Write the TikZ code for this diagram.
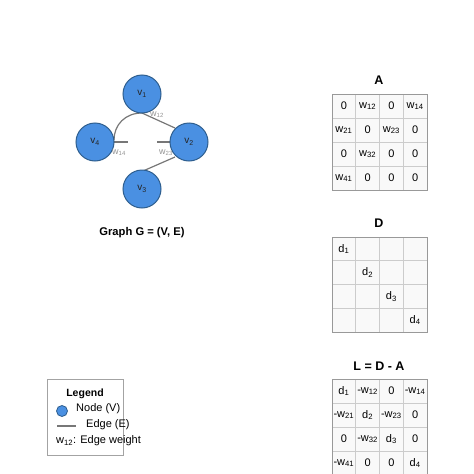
\documentclass[tikz,border=0pt]{standalone}
\usepackage{fontspec}
\setmainfont{Liberation Sans}
\definecolor{nodefill}{HTML}{4A90E2}
\definecolor{nodeline}{HTML}{2E5E8E}
\definecolor{edgecol}{HTML}{777777}
\definecolor{gridout}{HTML}{999999}
\definecolor{gridin}{HTML}{CCCCCC}
\definecolor{cellbg}{HTML}{F9F9F9}
\newcommand{\sub}[1]{\textsubscript{#1}}
\tikzset{
  vert/.style={circle, fill=nodefill, draw=nodeline, line width=1pt, minimum size=38pt, inner sep=0pt, font=\fontsize{10}{11}\selectfont, text=black!85},
  edge/.style={draw=edgecol, line width=1.2pt},
  wlab/.style={font=\fontsize{9}{10}\selectfont, text=gray!85, inner sep=0pt},
  mtitle/.style={font=\bfseries\fontsize{12.5}{13}\selectfont, inner sep=0pt},
  cell/.style={font=\fontsize{11}{12}\selectfont, inner sep=0pt},
  legtext/.style={font=\fontsize{11}{12}\selectfont, anchor=west, inner sep=0pt},
}
\begin{document}
\begin{tikzpicture}[x=1pt,y=-1pt]
\useasboundingbox (0,0) rectangle (474,474);
\clip (0,0) rectangle (474,474);
% edges
\coordinate (c1) at (142,113);
\coordinate (c2) at (114,140);
\coordinate (c3) at (175,128);
\draw[edge] (c1) .. controls (125,113) and (114,125) .. (c2);
\draw[edge] (c1) -- (c3);
\coordinate (s1a) at (110,142); \coordinate (s1b) at (128,142);
\coordinate (s2a) at (157,142); \coordinate (s2b) at (175,142);
\draw[edge] (s1a) -- (s1b);
\draw[edge] (s2a) -- (s2b);
\coordinate (b1) at (175,157); \coordinate (b2) at (143,171);
\draw[edge] (b1) -- (b2);
% nodes
\node[vert] (v1) at (142,94) {v\sub{1}};
\node[vert] (v4) at (95,142) {v\sub{4}};
\node[vert] (v2) at (189,142) {v\sub{2}};
\node[vert] (v3) at (142,189) {v\sub{3}};
% weights
\node[wlab] (w12) at (157,115) {w\sub{12}};
\node[wlab] (w14) at (119,153) {w\sub{14}};
\node[wlab] (w23) at (166,153) {w\sub{23}};
\node[font=\bfseries\fontsize{11.2}{12}\selectfont, inner sep=0pt] (gt) at (142,233) {Graph G = (V, E)};
% matrix A
\node[mtitle] (tA) at (379,80) {A};
\fill[cellbg] (332,94) rectangle (427,190);
\foreach \i in {1,2,3} {
  \draw[gridin, line width=0.8pt] (332+\i*23.75,94) -- (332+\i*23.75,190);
  \draw[gridin, line width=0.8pt] (332,94+\i*24) -- (427,94+\i*24);
}
\draw[gridout, line width=1pt] (332,94) rectangle (427,190);
\foreach \r/\row in {0/{0,w\sub{12},0,w\sub{14}},1/{w\sub{21},0,w\sub{23},0},2/{0,w\sub{32},0,0},3/{w\sub{41},0,0,0}} {
  \foreach \t [count=\c from 0] in \row {
    \node[cell] at (332+11.9+\c*23.75, 94+12+\r*24) {\t};
  }
}
% matrix D
\node[mtitle] (tD) at (379,223) {D};
\fill[cellbg] (332,237) rectangle (427,332);
\foreach \i in {1,2,3} {
  \draw[gridin, line width=0.8pt] (332+\i*23.75,237) -- (332+\i*23.75,332);
  \draw[gridin, line width=0.8pt] (332,237+\i*23.75) -- (427,237+\i*23.75);
}
\draw[gridout, line width=1pt] (332,237) rectangle (427,332);
\foreach \k in {0,1,2,3} {
  \pgfmathtruncatemacro{\kk}{\k+1}
  \node[cell] at (332+11.9+\k*23.75, 237+11.9+\k*23.75) {d\sub{\kk}};
}
% matrix L
\node[mtitle] (tL) at (379,366) {L = D - A};
\fill[cellbg] (332,379) rectangle (427,475);
\foreach \i in {1,2,3} {
  \draw[gridin, line width=0.8pt] (332+\i*23.75,379) -- (332+\i*23.75,475);
  \draw[gridin, line width=0.8pt] (332,379+\i*24) -- (427,379+\i*24);
}
\draw[gridout, line width=1pt] (332,379) rectangle (427,475);
\foreach \r/\row in {0/{d\sub{1},-w\sub{12},0,-w\sub{14}},1/{-w\sub{21},d\sub{2},-w\sub{23},0},2/{0,-w\sub{32},d\sub{3},0},3/{-w\sub{41},0,0,d\sub{4}}} {
  \foreach \t [count=\c from 0] in \row {
    \node[cell] at (332+11.9+\c*23.75, 379+12+\r*24) {\t};
  }
}
% legend
\draw[gridin!80!black, line width=1pt, fill=white] (47,379) rectangle (123,455);
\node[font=\bfseries\fontsize{10.5}{11}\selectfont, inner sep=0pt] (lt) at (85,394) {Legend};
\node[circle, fill=nodefill, draw=nodeline, line width=0.8pt, minimum size=11pt, inner sep=0pt] (lc) at (62,411) {};
\node[legtext] (ln) at (76,409) {Node (V)};
\coordinate (la) at (57,426); \coordinate (lb) at (76,426);
\draw[edge] (la) -- (lb);
\node[legtext] (le) at (86,425) {Edge (E)};
\node[legtext] (lw) at (56,441) {w\sub{12}: Edge weight};
\end{tikzpicture}
\end{document}
